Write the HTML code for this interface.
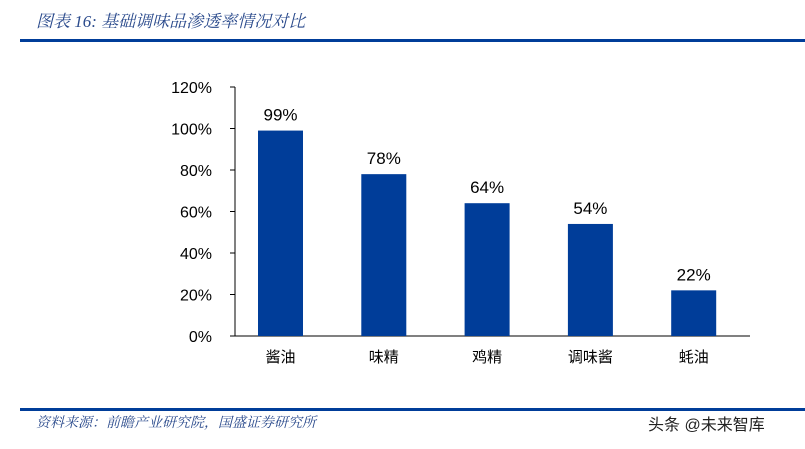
<!DOCTYPE html>
<html><head><meta charset="utf-8"><style>
body{margin:0;background:#fff;width:805px;height:444px;overflow:hidden;font-family:"Liberation Sans","Noto Sans CJK SC",sans-serif}
</style></head><body>
<svg width="805" height="444" xmlns="http://www.w3.org/2000/svg">
<text x="36" y="27" font-size="17" font-style="italic" fill="#2a4a8c" font-family="Liberation Serif,Noto Serif CJK SC,serif">图表 16:  基础调味品渗透率情况对比</text>
<rect x="20" y="39" width="785" height="3" fill="#003d99"/>
<g id="plot"></g>
<rect x="20" y="408" width="785" height="3" fill="#003d99"/>
<text x="36" y="427" font-size="14" font-style="italic" fill="#2a4a8c" font-family="Liberation Serif,Noto Serif CJK SC,serif">资料来源：前瞻产业研究院，国盛证券研究所</text>
<text x="648" y="430" font-size="16" fill="#222">头条 @未来智库</text>
</svg>
<script>
const categories=["酱油","味精","鸡精","调味酱","蚝油"];
const values=[99,78,64,54,22];
const ticks=[0,20,40,60,80,100,120];
const ns="http://www.w3.org/2000/svg";
const g=document.getElementById("plot");
const x0=235,x1=750,y0=336,yTop=87,vMax=120;
const y=v=>y0-(v/vMax)*(y0-yTop);
const step=103.3;
const xc=i=>x0+45.5+step*i;
function el(t,a,txt){const e=document.createElementNS(ns,t);for(const k in a)e.setAttribute(k,a[k]);if(txt!=null)e.textContent=txt;g.appendChild(e);return e;}
let ax=el("line",{x1:x0,y1:yTop,x2:x0,y2:y0,stroke:"#000","stroke-width":1});


let bx=el("line",{x1:x0,y1:y0,x2:x1,y2:y0,stroke:"#000","stroke-width":1});


ticks.forEach(t=>{
 let tk=el("line",{x1:x0-5,y1:y(t),x2:x0,y2:y(t),stroke:"#000"});
 
 
 let tl=el("text",{x:x0-23,y:y(t)+6,"font-size":16,"text-anchor":"end",fill:"#000"},t+"%");
 
 
});
categories.forEach((c,i)=>{
 const cx=xc(i);
 let b=el("rect",{x:cx-22.5,y:y(values[i]),width:45,height:y0-y(values[i]),fill:"#003d99"});
 
 
 let v=el("text",{x:cx,y:y(values[i])-10,"font-size":17,"text-anchor":"middle",fill:"#000"},values[i]+"%");
 
 
 let cl=el("text",{x:cx,y:y0+26,"font-size":15,"text-anchor":"middle",fill:"#000"},c);
 
 
});
</script>
</body></html>
